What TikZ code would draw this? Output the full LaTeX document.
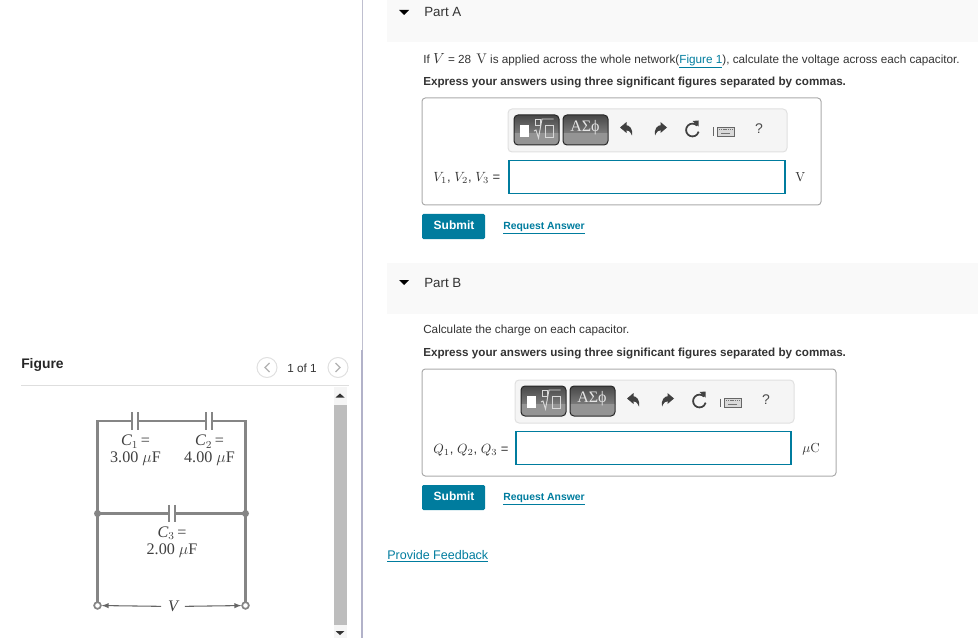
\documentclass[tikz,border=0pt]{standalone}
\usepackage{fontspec}
\setmainfont{Liberation Sans}
\newfontfamily\serifface{Liberation Serif}
\newfontfamily\lmface{Latin Modern Roman}
\definecolor{linkteal}{HTML}{007C9E}
\definecolor{wiregray}{HTML}{858585}
\definecolor{textgray}{HTML}{333333}
\tikzset{
    txt/.style={inner sep=0pt, anchor=west, text=textgray, font=\fontsize{8.8}{11}\selectfont},
    boldtxt/.style={txt, font=\fontsize{8.75}{11}\selectfont\bfseries},
    parttxt/.style={txt, font=\fontsize{10}{12}\selectfont},
    linktxt/.style={txt, text=linkteal, font=\fontsize{7.8}{10}\selectfont\bfseries},
    mathtxt/.style={txt, font=\fontsize{9.8}{11}\selectfont},
    capvalue/.style={inner sep=0pt, align=center, text=black!75, font=\fontsize{12.1}{12.8}\selectfont\serifface},
    wire/.style={draw=wiregray, line width=1.8pt},
    plate/.style={draw=wiregray, line width=1.8pt},
    terminal/.style={circle, draw=wiregray, line width=1.3pt, fill=white, minimum size=5pt, inner sep=0pt},
    panel/.style={draw=black!33, line width=0.75pt, rounded corners=2.5pt},
    answerbox/.style={draw=linkteal, line width=0.8pt, fill=white},
    submitbtn/.style={fill=linkteal, rounded corners=1pt},
    navbtn/.style={circle, draw=black!12, line width=0.75pt, fill=white, minimum size=15pt, inner sep=0pt},
    iconfill/.style={fill=black!75, draw=none},
}
\begin{document}
\begin{tikzpicture}[x=0.75pt, y=-0.75pt]
    \useasboundingbox (0,0) rectangle (978,638);
    % part headers
    \fill[black!2.5] (387,0) rectangle (978,42);
    \fill[black!2.5] (387,263) rectangle (978,314);
    \draw[blue!25!black!25, line width=0.75pt] (362.5,0) -- (362.5,350);
    \draw[blue!30!black!30, line width=1pt] (362,350) -- (362,638);
    \fill[black] (399,10) -- (409,10) -- (404,15) -- cycle;
    \fill[black] (399,280) -- (409,280) -- (404,285) -- cycle;
    \node[parttxt] (partA) at (424,12) {Part A};
    \node[parttxt] (partB) at (424,283) {Part B};
    % question text
    \node[txt] (askA) at (423,61) {If {\fontsize{10.5}{11}\selectfont$V$} = 28 \,{\fontsize{10.5}{11}\selectfont\lmface V} is applied across the whole network(\textcolor{linkteal}{\underline{Figure 1}}), calculate the voltage across each capacitor.};
    \node[boldtxt] (howA) at (423,83) {Express your answers using three significant figures separated by commas.};
    \node[txt] (askB) at (423,330) {Calculate the charge on each capacitor.};
    \node[boldtxt] (howB) at (423,354) {Express your answers using three significant figures separated by commas.};
    % answer panels
    \draw[panel] (422,98) rectangle (821,205);
    \draw[panel] (422,369) rectangle (836,476);
    \draw[answerbox] (509,160.5) rectangle (785,193.5);
    \draw[answerbox] (516,431.5) rectangle (791,464.5);
    \node[mathtxt] (labA) at (433,178) {$V_1$, $V_2$, $V_3$ =};
    \node[mathtxt] (labB) at (433,450) {$Q_1$, $Q_2$, $Q_3$ =};
    \node[mathtxt] (unitA) at (795,177) {\lmface V};
    \node[mathtxt] (unitB) at (802,449) {$\mu$\lmface C};
    % toolbars
    \foreach \tx/\ty in {0/0, 7/271} {
        \begin{scope}[shift={(\tx,\ty)}]
            \draw[black!12, fill=black!4, line width=0.75pt, rounded corners=3pt] (508,109) rectangle (787,152);
            \foreach \bx in {514, 563} {
                \begin{scope}
                    \clip[rounded corners=3pt] (\bx,115) rectangle ++(45,30);
                    \shade[top color=black!72, bottom color=black!52] (\bx,115) rectangle ++(45,18);
                    \fill[black!42] (\bx,133) rectangle ++(45,12);
                \end{scope}
                \draw[black!85, line width=0.75pt, rounded corners=3pt] (\bx,115) rectangle ++(45,30);
            }
            % root button
            \fill[white] (520,125) rectangle (529,137);
            \draw[black!15, line width=0.7pt] (535.5,119) rectangle (540.5,125.5);
            \draw[black!15, line width=0.7pt] (534,131) -- (536,130) -- (538.5,138) -- (542,119) -- (553.5,119);
            \draw[black!15, line width=0.7pt] (545,125) rectangle (553.5,137);
            \node[inner sep=0pt, text=black!10, font=\fontsize{12}{13}\selectfont\serifface] at (585,128) {ΑΣϕ};
            % undo and redo
            \fill[iconfill] (620,127.5) -- (626.5,122) -- (626.5,133) -- cycle;
            \fill[iconfill] (625,125) .. controls (630,125) and (633,129) .. (632,135.5) .. controls (630,131) and (628,130) .. (625,130) -- cycle;
            \fill[iconfill] (667,127.5) -- (660.5,122) -- (660.5,133) -- cycle;
            \fill[iconfill] (662,125) .. controls (657,125) and (654,129) .. (655,135.5) .. controls (657,131) and (659,130) .. (662,130) -- cycle;
            % reset
            \draw[black!75, line width=1.3pt] (697,125.5) arc (45:345:4.8pt);
            \fill[iconfill] (692.5,121) -- (698.5,120.5) -- (698.5,126.5) -- cycle;
            % keyboard
            \draw[black!60, line width=0.7pt] (713,127.5) -- (713,136);
            \draw[black!60, fill=black!15, line width=0.7pt] (717.5,127) rectangle (734,136);
            \draw[black!55, line width=1pt, dash pattern=on 1pt off 0.6pt] (719,129.5) -- (732.5,129.5);
            \draw[black!55, line width=1pt] (721,133.5) -- (730,133.5);
            \node[inner sep=0pt, text=black!70, font=\fontsize{10.5}{11}\selectfont] at (759,128.5) {?};
        \end{scope}
    }
    % submit row
    \fill[submitbtn] (422,214) rectangle (485,239);
    \fill[submitbtn] (422,485) rectangle (485,510);
    \node[inner sep=0pt, text=white, font=\fontsize{9}{11}\selectfont\bfseries] (subA) at (454,225.5) {Submit};
    \node[inner sep=0pt, text=white, font=\fontsize{9}{11}\selectfont\bfseries] (subB) at (454,496.5) {Submit};
    \node[linktxt] (reqA) at (503,228) {\underline{Request Answer}};
    \node[linktxt] (reqB) at (503,499) {\underline{Request Answer}};
    \node[txt, text=linkteal, font=\fontsize{9.4}{12}\selectfont] (feedback) at (387,556) {\underline{Provide Feedback}};
    % figure header
    \node[boldtxt, text=black!85, font=\fontsize{10.4}{12}\selectfont\bfseries] (figtitle) at (21,364.5) {Figure};
    \node[navbtn] (prev) at (267,367.5) {};
    \node[navbtn] (next) at (338,367.5) {};
    \draw[black!30, line width=1pt] (269.5,363) -- (265,367.5) -- (269.5,372);
    \draw[black!30, line width=1pt] (335.5,363) -- (340,367.5) -- (335.5,372);
    \node[txt, anchor=center] (pager) at (302,368) {1 of 1};
    \draw[black!13, line width=0.75pt] (21,385.5) -- (349,385.5);
    % scrollbar
    \fill[black!4] (334,387) rectangle (347,638);
    \fill[black!26] (334,405) rectangle (347,625);
    \fill[black!80] (335.5,397.5) -- (344.5,397.5) -- (340,393.5) -- cycle;
    \fill[black!80] (335.5,631) -- (344.5,631) -- (340,635) -- cycle;
    % circuit
    \coordinate (TL) at (97.5,421);
    \coordinate (TR) at (245.5,421);
    \coordinate (ML) at (97.5,513.5);
    \coordinate (MR) at (245.5,513.5);
    \coordinate (BL) at (97.5,605.5);
    \coordinate (BR) at (245.5,605.5);
    \coordinate (C1a) at (132,421);
    \coordinate (C1b) at (138,421);
    \coordinate (C2a) at (206,421);
    \coordinate (C2b) at (212,421);
    \coordinate (C3a) at (169,513.5);
    \coordinate (C3b) at (175,513.5);
    \draw[wire] (BL) -- (TL) -- (C1a);
    \draw[wire] (C1b) -- (C2a);
    \draw[wire] (C2b) -- (TR) -- (BR);
    \draw[wire] (ML) -- (C3a);
    \draw[wire] (C3b) -- (MR);
    \foreach \p in {C1a, C1b, C2a, C2b, C3a, C3b} {
        \draw[plate] ([yshift=6.5pt]\p) -- ([yshift=-6.5pt]\p);
    }
    \fill[wiregray] (ML) circle (3.5);
    \fill[wiregray] (MR) circle (3.5);
    \node[terminal] (termL) at (BL) {};
    \node[terminal] (termR) at (BR) {};
    \node[capvalue] (valC1) at (135.5,450.5) {{\itshape C}$_1$\,=\\3.00 $\mu$F};
    \node[capvalue] (valC2) at (209.5,450.5) {{\itshape C}$_2$\,=\\4.00 $\mu$F};
    \node[capvalue] (valC3) at (172,542) {{\itshape C}$_3$\,=\\2.00 $\mu$F};
    \node[capvalue, inner xsep=5pt] (volt) at (173,606.5) {\itshape V};
    \draw[black!60, line width=0.8pt, -latex] (volt) -- (termR);
    \draw[black!60, line width=0.8pt, -latex] (volt) -- (termL);
\end{tikzpicture}
\end{document}
